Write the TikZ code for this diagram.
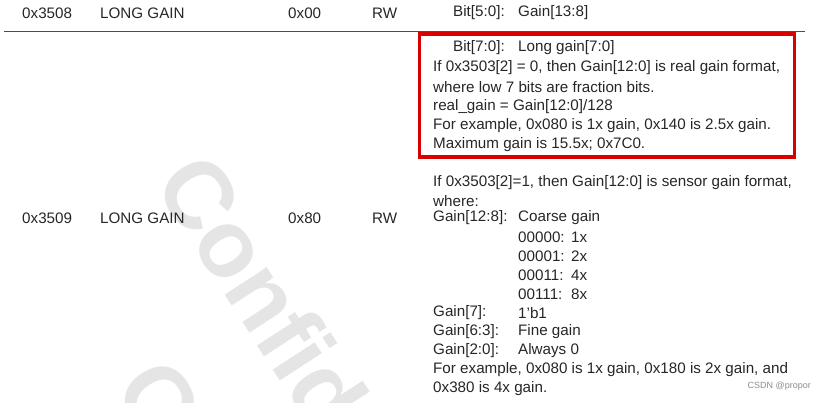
\documentclass[tikz,border=0pt]{standalone}
\usepackage{fontspec}
\setmainfont{Liberation Sans}
\begin{document}
\begin{tikzpicture}[x=1pt,y=-1pt,
  t/.style={anchor=west,inner sep=0pt,font=\fontsize{15.2}{17}\selectfont,text=black!85},
  wm/.style={text=black!10,font=\fontsize{95}{100}\selectfont\bfseries,rotate=-57}]
\useasboundingbox (0,0) rectangle (817,402);
\begin{scope}
\clip (0,0) rectangle (817,402);
\node[wm] (w) at (330,395) {Confidential};
\node[wm] (w2) at (290,600) {Confidential};
\end{scope}
\draw[black!70,line width=1pt] (4,31) -- (805,31);
\draw[red!85!black,line width=3.5pt] (419.5,34) rectangle (794.5,157);
% row 1
\node[t] (a1) at (22,13) {0x3508};
\node[t] (a2) at (100,13) {LONG GAIN};
\node[t] (a3) at (288,13) {0x00};
\node[t] (a4) at (372,13) {RW};
\node[t] (a5) at (453,13) {Bit[5:0]:};
\node[t] (a6) at (518,13) {Gain[13:8]};
% box
\node[t] (b1) at (453,48) {Bit[7:0]:};
\node[t] (b2) at (518,48) {Long gain[7:0]};
\node[t] (b3) at (433,68) {If 0x3503[2] = 0, then Gain[12:0] is real gain format,};
\node[t] (b4) at (433,87) {where low 7 bits are fraction bits.};
\node[t] (b5) at (433,107) {real\_gain = Gain[12:0]/128};
\node[t] (b6) at (433,126) {For example, 0x080 is 1x gain, 0x140 is 2.5x gain.};
\node[t] (b7) at (433,145) {Maximum gain is 15.5x; 0x7C0.};
% row 2
\node[t] (c1) at (22,218) {0x3509};
\node[t] (c2) at (100,218) {LONG GAIN};
\node[t] (c3) at (288,218) {0x80};
\node[t] (c4) at (372,218) {RW};
\node[t] (d1) at (433,183) {If 0x3503[2]=1, then Gain[12:0] is sensor gain format,};
\node[t] (d2) at (433,201) {where:};
\node[t] (d3) at (433,218) {Gain[12:8]:};
\node[t] (d4) at (518,218) {Coarse gain};
\node[t] (e1) at (518,237) {00000:};
\node[t] (e2) at (571,237) {1x};
\node[t] (e3) at (518,256) {00001:};
\node[t] (e4) at (571,256) {2x};
\node[t] (e5) at (518,275) {00011:};
\node[t] (e6) at (571,275) {4x};
\node[t] (e7) at (518,294) {00111:};
\node[t] (e8) at (571,294) {8x};
\node[t] (f1) at (433,313) {Gain[7]:};
\node[t] (f2) at (518,313) {1'b1};
\node[t] (f3) at (433,332) {Gain[6:3]:};
\node[t] (f4) at (518,332) {Fine gain};
\node[t] (f5) at (433,351) {Gain[2:0]:};
\node[t] (f6) at (518,351) {Always 0};
\node[t] (f7) at (433,370) {For example, 0x080 is 1x gain, 0x180 is 2x gain, and};
\node[t] (f8) at (433,389) {0x380 is 4x gain.};
\node[anchor=east,inner sep=0pt,font=\fontsize{9}{10}\selectfont,text=black!45] (g) at (811,386) {CSDN @propor};
\end{tikzpicture}
\end{document}
